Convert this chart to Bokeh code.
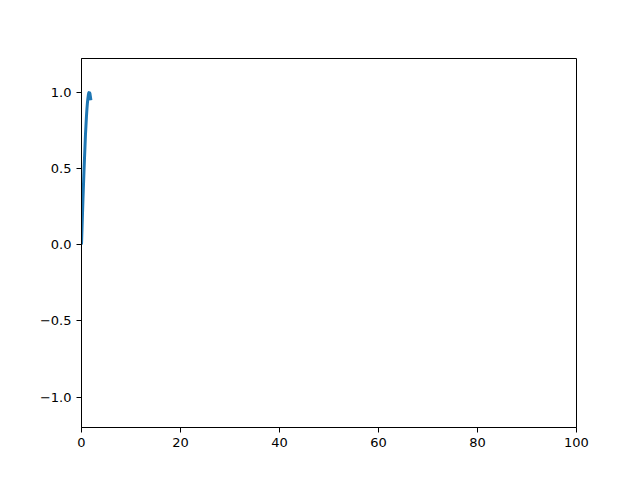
from bokeh.plotting import figure
from bokeh.models import Range1d, FixedTicker
from bokeh.embed import file_html
from bokeh.resources import INLINE

# data (one partial sine-like stroke)
xs = [0.0, 0.1, 0.2, 0.3, 0.4, 0.5, 0.6, 0.7, 0.8, 0.9, 1.0, 1.1, 1.2, 1.3,
      1.4, 1.5, 1.6, 1.7, 1.8, 1.9]
ys = [0.0, 0.10, 0.20, 0.30, 0.39, 0.48, 0.56, 0.64, 0.72, 0.78, 0.84, 0.89,
      0.93, 0.96, 0.985, 0.997, 0.999, 0.99, 0.97, 0.946]

x_ticks = [0, 20, 40, 60, 80, 100]
x_labels = ["0", "20", "40", "60", "80", "100"]
y_ticks = [-1.0, -0.5, 0.0, 0.5, 1.0]
y_labels = ["\u22121.0", "\u22120.5", "0.0", "0.5", "1.0"]

p = figure(width=640, height=480, output_backend="svg", toolbar_location=None,
           x_range=Range1d(0, 100), y_range=Range1d(-1.2, 1.22),
           min_border_left=81, min_border_right=64, min_border_top=58,
           min_border_bottom=53)
p.frame_width = 495
p.frame_height = 369

p.line(xs, ys, line_color="#1f77b4", line_width=3)

p.grid.visible = False
p.outline_line_color = "black"
p.outline_line_alpha = 1
p.outline_line_width = 1
p.background_fill_color = "white"
p.border_fill_color = "white"

p.xaxis.ticker = FixedTicker(ticks=x_ticks)
p.xaxis.major_label_overrides = {t: l for t, l in zip(x_ticks, x_labels)}
p.yaxis.ticker = FixedTicker(ticks=y_ticks)
p.yaxis.major_label_overrides = {t: l for t, l in zip(y_ticks, y_labels)}

for ax in (p.xaxis, p.yaxis):
    ax.axis_line_color = "black"
    ax.axis_line_width = 1
    ax.major_tick_line_color = "black"
    ax.major_tick_out = 5
    ax.major_tick_in = 0
    ax.minor_tick_line_color = None
    ax.major_label_text_font = "DejaVu Sans"
    ax.major_label_text_font_size = "13px"
    ax.major_label_text_color = "black"
    ax.major_label_standoff = 5

open("out.html", "w").write(file_html(p, INLINE))
